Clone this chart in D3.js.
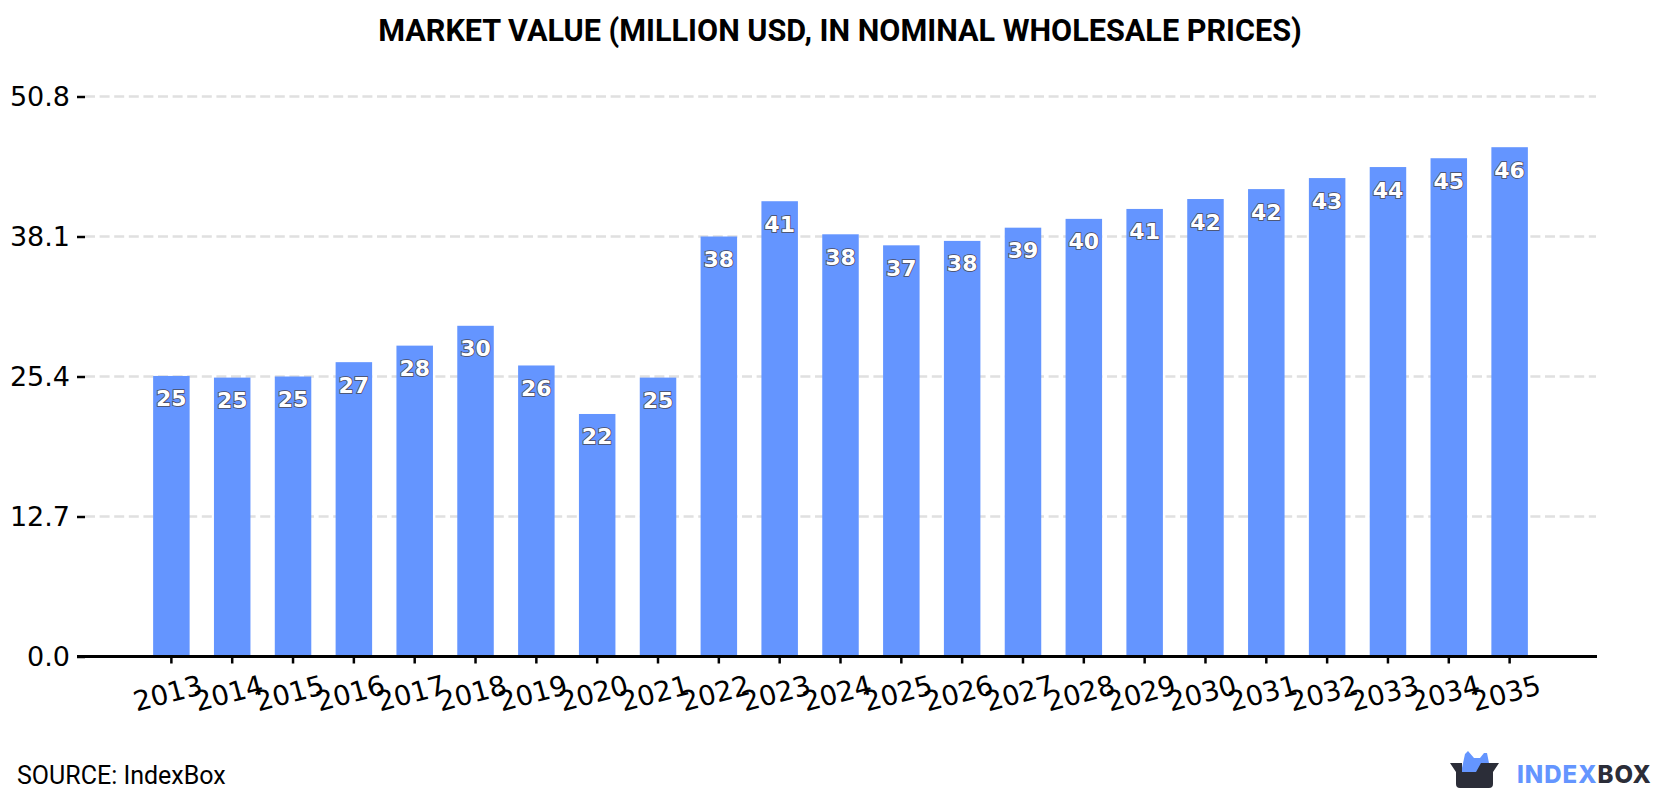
<!DOCTYPE html>
<html>
<head>
<meta charset="utf-8">
<script src="https://cdnjs.cloudflare.com/ajax/libs/d3/7.8.5/d3.min.js"></script>
<style>
  html, body { margin: 0; padding: 0; background: #fff; }
  svg { display: block; }
</style>
</head>
<body>
<svg id="chart" width="1680" height="800"></svg>
<script>
const years = [2013,2014,2015,2016,2017,2018,2019,2020,2021,2022,2023,2024,2025,2026,2027,2028,2029,2030,2031,2032,2033,2034,2035];
const marketValue = [25.45,25.3,25.4,26.7,28.2,30.0,26.4,22.0,25.3,38.1,41.3,38.3,37.3,37.7,38.9,39.7,40.6,41.5,42.4,43.4,44.4,45.2,46.2];
const yTicks = [0,12.7,25.4,38.1,50.8];
const titleText = "MARKET VALUE (MILLION USD, IN NOMINAL WHOLESALE PRICES)";
const sourceText = "SOURCE: IndexBox";

const svg = d3.select("#chart");
const plot = { left: 85, right: 1596, top: 96.5, bottom: 656.5 };

const x = d3.scaleBand().domain(years).range([plot.left, plot.right]).paddingInner(0.4).paddingOuter(1.12);
const y = d3.scaleLinear().domain([0, 50.8]).range([plot.bottom, plot.top]);

// Title
svg.append("text")
  .attr("x", 840).attr("y", 41)
  .attr("text-anchor", "middle")
  .style("font", "700 30.6px Roboto")
  .attr("fill", "#000")
  .text(titleText);

// Dashed horizontal grid, behind the bars
svg.append("g").selectAll("line")
  .data(yTicks.filter(d => d > 0))
  .join("line")
  .attr("x1", plot.left).attr("x2", plot.right)
  .attr("y1", d => y(d)).attr("y2", d => y(d))
  .attr("stroke", "#e0e0e0").attr("stroke-width", 2.5)
  .attr("stroke-dasharray", "10,4.6");

// Bars
svg.append("g").selectAll("rect")
  .data(years)
  .join("rect")
  .attr("x", d => x(d))
  .attr("width", x.bandwidth())
  .attr("y", (d, i) => y(marketValue[i]))
  .attr("height", (d, i) => y(0) - y(marketValue[i]))
  .attr("fill", "#6495ff");

// Rounded value labels inside each bar
svg.append("g").selectAll("text")
  .data(years)
  .join("text")
  .attr("x", d => x(d) + x.bandwidth() / 2)
  .attr("y", (d, i) => y(marketValue[i]) + 30.5)
  .attr("text-anchor", "middle")
  .style("font", "700 22px 'DejaVu Sans'")
  .attr("fill", "#fff")
  .attr("stroke", "#4a4a5a")
  .attr("stroke-width", 1.6)
  .attr("paint-order", "stroke")
  .text((d, i) => Math.round(marketValue[i]));

// Y axis: outward tick marks and labels
const yAxis = d3.axisLeft(y).tickValues(yTicks).tickSize(8).tickPadding(7).tickFormat(d3.format(".1f"));
const gy = svg.append("g").attr("transform", `translate(${plot.left},0)`).call(yAxis);
gy.select(".domain").remove();
gy.selectAll(".tick line").attr("stroke", "#000").attr("stroke-width", 2.5);
gy.selectAll(".tick text").style("font", "27px 'DejaVu Sans'").attr("fill", "#000");

// X axis: baseline, tick marks and slanted year labels
const xAxis = d3.axisBottom(x).tickSizeOuter(0).tickSize(7).tickPadding(0);
const gx = svg.append("g").attr("transform", `translate(0,${plot.bottom})`).call(xAxis);
gx.select(".domain").remove();
gx.selectAll(".tick line").attr("stroke", "#000").attr("stroke-width", 2.5);
gx.selectAll(".tick text")
  .style("font", "27.5px 'DejaVu Sans'")
  .attr("fill", "#000")
  .attr("text-anchor", "middle")
  .attr("dy", null)
  .attr("y", 0)
  .attr("transform", "translate(-1,46) rotate(-15)");

svg.append("line")
  .attr("x1", 77).attr("x2", plot.right + 1)
  .attr("y1", y(0)).attr("y2", y(0))
  .attr("stroke", "#000").attr("stroke-width", 3);

// Source note
svg.append("text")
  .attr("x", 17).attr("y", 784)
  .style("font", "25px Roboto")
  .attr("fill", "#000")
  .text(sourceText);

// IndexBox logo
const logo = svg.append("g");
logo.append("path")
  .attr("d", "M1461 788 L1462 768 L1465 754 L1468 751 L1474 758 L1480 758 L1484 753 L1487 753 L1490 768 L1478 788 Z")
  .attr("fill", "#6495ff");
logo.append("path")
  .attr("d", "M1450 763 L1462 763 L1462 772 L1476 772 L1481 763 L1499 763 L1493 772 L1493 784 Q1493 788 1489 788 L1460 788 Q1456 788 1456 784 L1456 772 Z")
  .attr("fill", "#2b2d38");
const logoText = logo.append("text")
  .attr("x", 1517).attr("y", 783)
  .style("font", "800 24px Inter")
  .style("letter-spacing", "1px");
logoText.append("tspan").attr("fill", "#6495ff").text("INDEX");
logoText.append("tspan").attr("fill", "#2b2d38").text("BOX");
</script>
</body>
</html>
